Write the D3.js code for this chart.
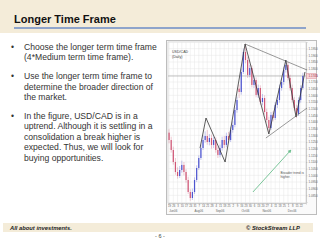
<!DOCTYPE html>
<html>
<head>
<meta charset="utf-8">
<script src="https://cdn.jsdelivr.net/npm/d3@7"></script>
<style>
  html, body { margin: 0; padding: 0; background: #fff; }
  svg { display: block; font-family: "Liberation Sans", Arial, sans-serif; }
</style>
</head>
<body>
<div id="slide"></div>
<script>
// slide text
const title = "Longer Time Frame";
const bullets = [
  ["Choose the longer term time frame", "(4*Medium term time frame)."],
  ["Use the longer term time frame to", "determine the broader direction of", "the market."],
  ["In the figure, USD/CAD is in a", "uptrend. Although it is settling in a",
   "consolidation a break higher is", "expected. Thus, we will look for", "buying opportunities."]
];
const footerLeft = "All about investments.";
const footerRight = "\u00a9 StockStream LLP";
const pageLabel = "- 6 -";

// USD/CAD daily candles
const open = [1.1320, 1.1265, 1.1190, 1.1100, 1.1025, 1.0995, 1.1040, 1.1078, 1.1025, 1.0965,
  1.0875, 1.0830, 1.0875, 1.0965, 1.1055, 1.1130, 1.1205, 1.1265, 1.1295, 1.1250,
  1.1280, 1.1228, 1.1265, 1.1190, 1.1153, 1.1205, 1.1265, 1.1228, 1.1295, 1.1265,
  1.1340, 1.1378, 1.1490, 1.1650, 1.1625, 1.1775, 1.1925, 1.1865, 1.1753, 1.1805,
  1.1678, 1.1715, 1.1603, 1.1655, 1.1550, 1.1580, 1.1475, 1.1415, 1.1355, 1.1453,
  1.1430, 1.1528, 1.1565, 1.1655, 1.1700, 1.1790, 1.1828, 1.1730, 1.1655, 1.1565,
  1.1505, 1.1460, 1.1565, 1.1655];
const high = [1.1345, 1.1290, 1.1215, 1.1130, 1.1060, 1.1070, 1.1110, 1.1100, 1.1045, 1.0990,
  1.0895, 1.0900, 1.0985, 1.1075, 1.1150, 1.1230, 1.1300, 1.1330, 1.1340, 1.1310,
  1.1305, 1.1290, 1.1285, 1.1215, 1.1230, 1.1290, 1.1295, 1.1320, 1.1325, 1.1365,
  1.1405, 1.1510, 1.1590, 1.1680, 1.1800, 1.1950, 1.1985, 1.1890, 1.1830, 1.1825,
  1.1745, 1.1735, 1.1680, 1.1675, 1.1610, 1.1600, 1.1500, 1.1440, 1.1475, 1.1480,
  1.1550, 1.1590, 1.1680, 1.1725, 1.1815, 1.1865, 1.1850, 1.1755, 1.1680, 1.1590,
  1.1530, 1.1585, 1.1675, 1.1770];
const low = [1.1240, 1.1170, 1.1080, 1.1005, 1.0975, 1.0980, 1.1020, 1.1000, 1.0945, 1.0860,
  1.0810, 1.0815, 1.0860, 1.0950, 1.1040, 1.1115, 1.1190, 1.1245, 1.1230, 1.1225,
  1.1200, 1.1205, 1.1170, 1.1130, 1.1135, 1.1185, 1.1205, 1.1210, 1.1240, 1.1250,
  1.1320, 1.1360, 1.1470, 1.1580, 1.1605, 1.1760, 1.1840, 1.1730, 1.1735, 1.1660,
  1.1655, 1.1585, 1.1580, 1.1530, 1.1525, 1.1455, 1.1395, 1.1325, 1.1340, 1.1405,
  1.1415, 1.1505, 1.1545, 1.1635, 1.1680, 1.1770, 1.1710, 1.1635, 1.1545, 1.1485,
  1.1430, 1.1445, 1.1545, 1.1640];
const close = [1.1265, 1.1190, 1.1100, 1.1025, 1.0995, 1.1040, 1.1078, 1.1025, 1.0965, 1.0875,
  1.0830, 1.0875, 1.0965, 1.1055, 1.1130, 1.1205, 1.1265, 1.1295, 1.1250, 1.1280,
  1.1228, 1.1265, 1.1190, 1.1153, 1.1205, 1.1265, 1.1228, 1.1295, 1.1265, 1.1340,
  1.1378, 1.1490, 1.1565, 1.1625, 1.1775, 1.1925, 1.1865, 1.1753, 1.1805, 1.1678,
  1.1715, 1.1603, 1.1655, 1.1550, 1.1580, 1.1475, 1.1415, 1.1355, 1.1453, 1.1430,
  1.1528, 1.1565, 1.1655, 1.1700, 1.1790, 1.1828, 1.1730, 1.1655, 1.1565, 1.1505,
  1.1460, 1.1565, 1.1655, 1.1745];
const lastPrice = 1.1745;

// drawn-on annotations: [candle index, price]
const swings = [[14.6, 1.1205], [17.4, 1.1430], [26.4, 1.1100], [35.8, 1.1985],
  [47.0, 1.1310], [55.0, 1.1865], [59.8, 1.1438], [64.0, 1.1775]];
const upperLine = [[35.8, 1.1985], [65.0, 1.1790]];
const lowerLine = [[45.6, 1.1280], [65.0, 1.1505]];
const trendArrow = [[39.5, 1.0875], [57.4, 1.1190]];
const noteText = ["Broader trend is", "higher."];
const noteAt = [52.5, 1.1010];
const chartName = ["USD/CAD", "(Daily)"];

// axis labels
const dayLabels = ["19", "26", "3", "10", "17", "24", "31", "7", "14", "21", "28", "4", "11",
  "18", "25", "2", "9", "16", "23", "30", "6", "13", "20", "27", "4", "11", "18", "25",
  "1", "8", "15", "22"];
const monthLabels = ["Jun06", "Aug06", "Sep06", "Oct06", "Nov06", "Dec06"];
const monthAt = [2, 14, 24, 36, 46, 58];

const W = 320, H = 240;
const svg = d3.select("#slide").append("svg").attr("width", W).attr("height", H);

// header
svg.append("rect").attr("x", 0).attr("y", 0).attr("width", W).attr("height", 33).attr("fill", "#f4ecd9");
svg.append("text").attr("x", 14).attr("y", 23).attr("font-size", 11).attr("font-weight", "bold")
  .attr("fill", "#111").text(title);
svg.append("line").attr("x1", 14).attr("x2", 306).attr("y1", 28).attr("y2", 28)
  .attr("stroke", "#6d8cc6").attr("stroke-width", 1.6);

// bullets
let ty = 50;
bullets.forEach((lines) => {
  svg.append("text").attr("x", 11).attr("y", ty).attr("font-size", 8.6).attr("fill", "#333").text("\u2022");
  lines.forEach((t) => {
    svg.append("text").attr("x", 24).attr("y", ty).attr("font-size", 8.6).attr("fill", "#333").text(t);
    ty += 10.4;
  });
  ty += 8.5;
});

// footer
svg.append("rect").attr("x", 3).attr("y", 223).attr("width", 310).attr("height", 9).attr("fill", "#f4ecd9");
svg.append("text").attr("x", 10).attr("y", 229.8).attr("font-size", 5.8).attr("font-weight", "bold")
  .attr("font-style", "italic").attr("fill", "#222").text(footerLeft);
svg.append("text").attr("x", 300).attr("y", 229.8).attr("font-size", 5.8).attr("font-weight", "bold")
  .attr("font-style", "italic").attr("text-anchor", "end").attr("fill", "#222").text(footerRight);
svg.append("text").attr("x", 160).attr("y", 238).attr("font-size", 5.5).attr("text-anchor", "middle")
  .attr("fill", "#444").text(pageLabel);

// chart
const plot = { left: 168, right: 306, top: 42, bottom: 203 };
const n = close.length;
const x = d3.scaleLinear().domain([-0.5, n + 0.5]).range([plot.left, plot.right]);
const y = d3.scaleLinear().domain([1.08, 1.2]).range([202, 42]);

const chart = svg.append("g");
chart.append("rect").attr("x", 166.5).attr("y", 40.5).attr("width", 150).attr("height", 174)
  .attr("fill", "#fafafa").attr("stroke", "#bdbdbd").attr("stroke-width", 1);
chart.append("rect").attr("x", plot.left).attr("y", plot.top)
  .attr("width", plot.right - plot.left).attr("height", plot.bottom - plot.top)
  .attr("fill", "#fff").attr("stroke", "#c8c8c8").attr("stroke-width", 0.6);

const priceTicks = d3.range(1.085, 1.1951, 0.005);
const dayTicks = d3.range(0, n, 2);

chart.append("g").selectAll("line").data(priceTicks).join("line")
  .attr("x1", plot.left).attr("x2", plot.right)
  .attr("y1", (d) => y(d)).attr("y2", (d) => y(d))
  .attr("stroke", "#e6e6e6").attr("stroke-width", 0.5);
chart.append("g").selectAll("line").data(dayTicks).join("line")
  .attr("x1", (d) => x(d)).attr("x2", (d) => x(d))
  .attr("y1", plot.top).attr("y2", plot.bottom)
  .attr("stroke", "#e6e6e6").attr("stroke-width", 0.5);

// price axis
const yAxis = chart.append("g").attr("transform", `translate(${plot.right},0)`)
  .call(d3.axisRight(y).tickValues(priceTicks).tickSize(1.5).tickFormat(d3.format(".4f")));
yAxis.select(".domain").attr("stroke", "#aaa").attr("stroke-width", 0.5);
yAxis.selectAll(".tick line").attr("stroke", "#aaa").attr("stroke-width", 0.4);
yAxis.selectAll(".tick text").attr("x", 2.5).attr("font-size", 3).attr("fill", "#666");

// date axis
const xAxis = chart.append("g").attr("transform", `translate(0,${plot.bottom})`)
  .call(d3.axisBottom(x).tickValues(dayTicks).tickSize(1.5).tickFormat((d, i) => dayLabels[i]));
xAxis.select(".domain").attr("stroke", "#aaa").attr("stroke-width", 0.5);
xAxis.selectAll(".tick line").attr("stroke", "#aaa").attr("stroke-width", 0.4);
xAxis.selectAll(".tick text").attr("y", 2.5).attr("font-size", 2.8).attr("fill", "#666");
chart.append("g").selectAll("text").data(monthLabels).join("text")
  .attr("x", (d, i) => x(monthAt[i])).attr("y", 211.5)
  .attr("font-size", 3).attr("fill", "#666").attr("text-anchor", "middle").text((d) => d);

// last price line and marker
chart.append("line").attr("x1", plot.left).attr("x2", plot.right)
  .attr("y1", y(lastPrice)).attr("y2", y(lastPrice))
  .attr("stroke", "#a0a0a0").attr("stroke-width", 0.6);
chart.append("rect").attr("x", plot.right + 0.5).attr("y", y(lastPrice) - 2.2)
  .attr("width", 10).attr("height", 4.4).attr("fill", "#f6d5d9").attr("stroke", "#d66a7a").attr("stroke-width", 0.4);
chart.append("text").attr("x", plot.right + 2.5).attr("y", y(lastPrice) + 1)
  .attr("font-size", 3).attr("fill", "#a03040").text(d3.format(".4f")(lastPrice));

// chart name
chart.append("g").selectAll("text").data(chartName).join("text")
  .attr("x", 172).attr("y", (d, i) => 53 + i * 4.5)
  .attr("font-size", 3.6).attr("fill", "#444").text((d) => d);

// candles
const candles = chart.append("g").selectAll("g").data(d3.range(n)).join("g");
const colour = (i) => (close[i] >= open[i] ? "#4048cc" : "#cc4a6c");
candles.append("line")
  .attr("x1", (i) => x(i)).attr("x2", (i) => x(i))
  .attr("y1", (i) => y(high[i])).attr("y2", (i) => y(low[i]))
  .attr("stroke", colour).attr("stroke-opacity", 0.5).attr("stroke-width", 0.6);
candles.append("rect")
  .attr("x", (i) => x(i) - 0.6).attr("width", 1.2)
  .attr("y", (i) => y(Math.max(open[i], close[i])))
  .attr("height", (i) => Math.max(0.6, Math.abs(y(open[i]) - y(close[i]))))
  .attr("fill", colour).attr("fill-opacity", 0.9);

// hand-drawn lines
const line = d3.line().x((d) => x(d[0])).y((d) => y(d[1]));
chart.append("path").attr("d", line(swings)).attr("fill", "none")
  .attr("stroke", "#333").attr("stroke-width", 0.8);
chart.append("path").attr("d", line(upperLine)).attr("fill", "none")
  .attr("stroke", "#555").attr("stroke-width", 0.6);
chart.append("path").attr("d", line(lowerLine)).attr("fill", "none")
  .attr("stroke", "#555").attr("stroke-width", 0.6);

svg.append("defs").append("marker").attr("id", "arrow")
  .attr("viewBox", "0 -5 10 10").attr("refX", 8).attr("markerWidth", 4).attr("markerHeight", 4)
  .attr("orient", "auto")
  .append("path").attr("d", "M0,-5L10,0L0,5Z").attr("fill", "#6cbf8e");
chart.append("path").attr("d", line(trendArrow)).attr("fill", "none")
  .attr("stroke", "#6cbf8e").attr("stroke-width", 0.9).attr("marker-end", "url(#arrow)");
chart.append("g").selectAll("text").data(noteText).join("text")
  .attr("x", x(noteAt[0])).attr("y", (d, i) => y(noteAt[1]) + i * 4)
  .attr("font-size", 3.3).attr("fill", "#555").text((d) => d);
</script>
</body>
</html>
